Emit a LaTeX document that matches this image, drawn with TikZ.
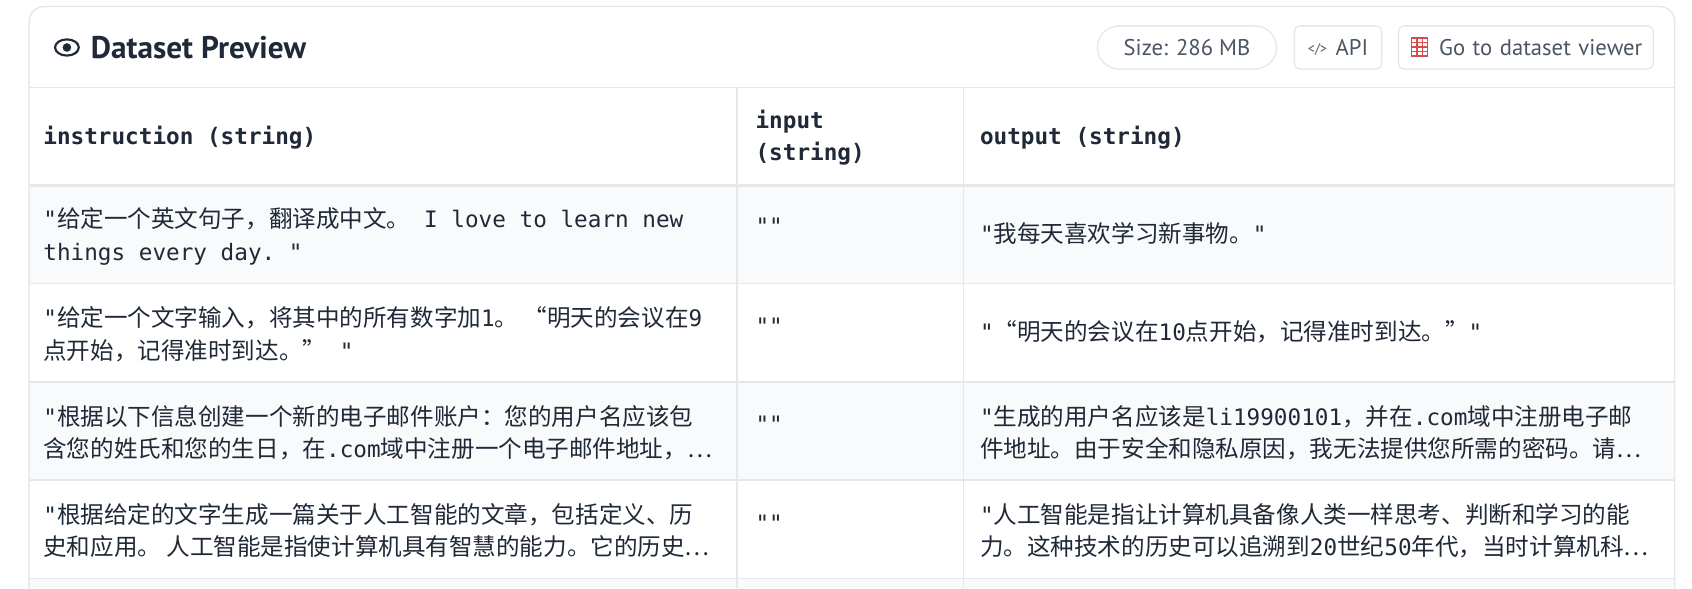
\documentclass[tikz,border=0pt]{standalone}
\usepackage{fontspec}
\usetikzlibrary{shapes.geometric}
\setmonofont{DejaVu Sans Mono}
\newfontfamily\cjk[Scale=1.04]{Noto Sans CJK SC}
\newfontfamily\titlefont{PT Sans}
\definecolor{txt}{HTML}{1F2937}
\definecolor{bord}{HTML}{E5E7EB}
\definecolor{rowg}{HTML}{F9FAFB}
\definecolor{btxt}{HTML}{4B5563}
\definecolor{gridred}{HTML}{DC4B4B}
\newcommand{\C}[1]{{\cjk #1}}
\tikzset{
  cell/.style={anchor=base west,inner sep=0pt,text=txt,font=\ttfamily\fontsize{21}{21}\selectfont},
  head/.style={anchor=base west,inner sep=0pt,text=txt,font=\ttfamily\bfseries\fontsize{21}{21}\selectfont},
  btn/.style={draw=bord,line width=1.2pt,fill=white,rounded corners=5pt,minimum height=40pt,text=btxt,font=\titlefont\fontsize{21}{21}\selectfont},
  sep/.style={draw=bord,line width=1.3pt}
}
\begin{document}
\begin{tikzpicture}[x=1pt,y=-1pt]
\useasboundingbox (0,0) rectangle (1568,545);
\fill[white] (0,0) rectangle (1568,545);
% card
\draw[bord,line width=1.3pt,rounded corners=14pt] (27,560) -- (27,6) -- (1552,6) -- (1552,560);
% rows background
\fill[rowg] (28,173) rectangle (1551,263);
\fill[rowg] (28,355) rectangle (1551,445);
\fill[rowg] (28,537) rectangle (1551,545);
% separators
\draw[sep] (28,81) -- (1551,81);
\draw[bord,line width=2.2pt] (28,172) -- (1551,172);
\foreach \y in {263,354,445,536} \draw[sep] (28,\y) -- (1551,\y);
\draw[sep] (683,81) -- (683,545);
\draw[sep] (893,81) -- (893,545);
% title
\node (eye) at (62,44) [draw=txt,line width=2pt,ellipse,minimum width=22pt,minimum height=15pt,inner sep=0pt] {};
\fill[txt] (eye.center) circle (4pt);
\node (title) [anchor=west,inner sep=0pt,text=txt,font=\titlefont\bfseries\fontsize{29}{29}\selectfont] at (84,44) {Dataset Preview};
% buttons
\node (size) [btn,rounded corners=20pt,minimum width=166pt] at (1100,44) {Size: 286 MB};
\node (api) [btn,minimum width=81pt] at (1240,44) {{\fontsize{13}{13}\selectfont\raisebox{2pt}{</>}}\hspace{8pt}API};
\node (go) [btn,minimum width=236pt,text width=216pt,align=right] at (1414,44) {Go to dataset viewer};
\begin{scope}[shift={(1308,35)}]
\draw[gridred,line width=1.4pt] (0,0) rectangle (15,17);
\draw[gridred,line width=1.2pt] (5,0)--(5,17) (10,0)--(10,17) (0,4.3)--(15,4.3) (0,8.5)--(15,8.5) (0,12.7)--(15,12.7);
\end{scope}
% headers
\node (h1) [head] at (40,134) {instruction (string)};
\node (h2a) [head] at (700,119) {input};
\node (h2b) [head] at (700,149) {(string)};
\node (h3) [head] at (908,134) {output (string)};
% row 1
\node (r1a) [cell] at (40,211) {"\C{给定一个英文句子，翻译成中文。} I love to learn new};
\node (r1b) [cell] at (40,241) {things every day. "};
\node (r1i) [cell] at (700,217) {""};
\node (r1o) [cell] at (908,225) {"\C{我每天喜欢学习新事物。}"};
% row 2
\node (r2a) [cell] at (40,303) {"\C{给定一个文字输入，将其中的所有数字加}1\C{。 “明天的会议在}9};
\node (r2b) [cell] at (40,333) {\C{点开始，记得准时到达。”} "};
\node (r2i) [cell] at (700,310) {""};
\node (r2o) [cell] at (908,316) {"\C{“明天的会议在}10\C{点开始，记得准时到达。”}"};
% row 3
\node (r3a) [cell] at (40,394) {"\C{根据以下信息创建一个新的电子邮件账户：您的用户名应该包}};
\node (r3b) [cell] at (40,424) {\C{含您的姓氏和您的生日，在}.com\C{域中注册一个电子邮件地址，…}};
\node (r3i) [cell] at (700,401) {""};
\node (r3o1) [cell] at (908,394) {"\C{生成的用户名应该是}li19900101\C{，并在}.com\C{域中注册电子邮}};
\node (r3o2) [cell] at (908,424) {\C{件地址。由于安全和隐私原因，我无法提供您所需的密码。请…}};
% row 4
\node (r4a) [cell] at (40,485) {"\C{根据给定的文字生成一篇关于人工智能的文章，包括定义、历}};
\node (r4b) [cell] at (40,515) {\C{史和应用。 人工智能是指使计算机具有智慧的能力。它的历史…}};
\node (r4i) [cell] at (700,493) {""};
\node (r4o1) [cell] at (908,485) {"\C{人工智能是指让计算机具备像人类一样思考、判断和学习的能}};
\node (r4o2) [cell] at (908,515) {\C{力。这种技术的历史可以追溯到}20\C{世纪}50\C{年代，当时计算机科…}};
\end{tikzpicture}
\end{document}
